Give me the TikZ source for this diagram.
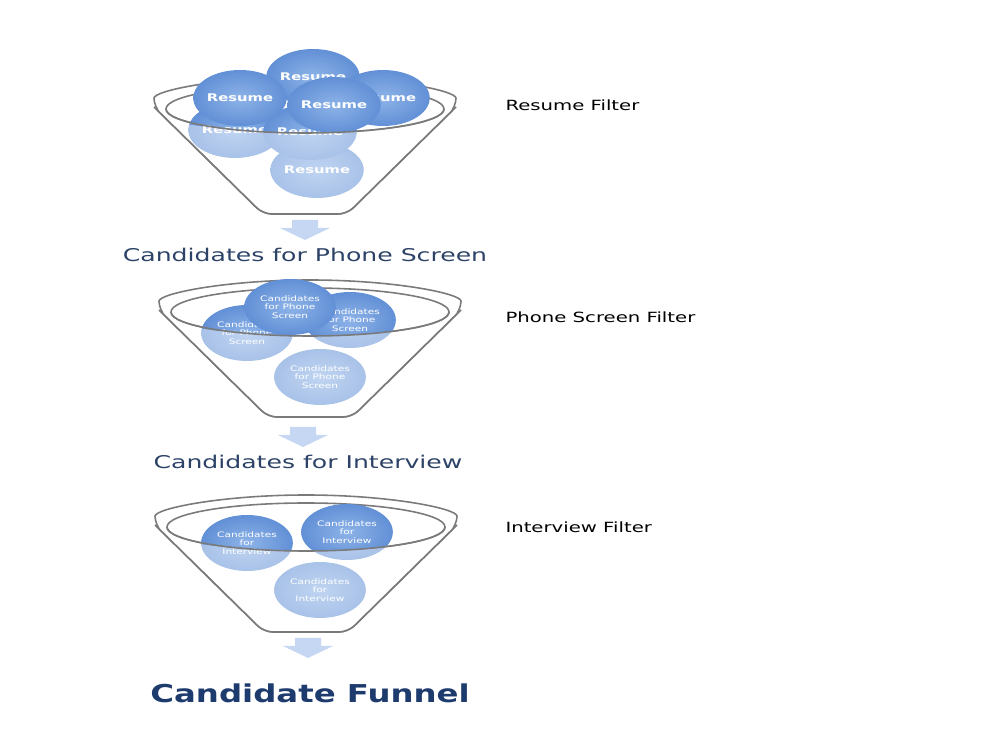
\documentclass[tikz,border=0pt]{standalone}
\usepackage{fontspec}
\setmainfont{DejaVu Sans}
\usepackage{xcolor}
\usetikzlibrary{shapes.geometric}
\usetikzlibrary{positioning}
\definecolor{bubin}{HTML}{8DB3E8}
\definecolor{bubout}{HTML}{6290D6}
\definecolor{funnelgrey}{HTML}{7A7A7A}
\definecolor{arrowblue}{HTML}{C6D7F3}
\definecolor{titleblue}{HTML}{2C4266}
\definecolor{mainblue}{HTML}{1E3B6E}
\tikzset{funline/.style={draw=funnelgrey, line width=0.9pt},
glass/.style={fill=white, fill opacity=0.45},
bub/.style={ellipse, xscale=1.4, minimum width=1.31cm, minimum height=1.12cm,
inner sep=0pt, inner color=bubin, outer color=bubout, text=white, align=center},
resume/.style={bub, font=\fontsize{6}{7}\selectfont\bfseries},
cand/.style={bub, font=\fontsize{4.3}{5}\selectfont},
title/.style={xscale=1.43, text=titleblue, font=\fontsize{10}{12}\selectfont},
filterlabel/.style={xscale=1.4, anchor=west, inner xsep=0pt, font=\fontsize{8}{10}\selectfont},
funnel back/.pic={
\draw[funline, rounded corners=5pt] (-151,0) arc[start angle=180, end angle=0, x radius=151, y radius=30]
-- (42,-107) -- (-42,-107) -- cycle;
\draw[funline] (0,-2) ellipse[x radius=139, y radius=24];},
funnel front/.pic={
\fill[glass, rounded corners=5pt] (-151,0) -- (-42,-107) -- (42,-107) -- (151,0) -- (139,-2)
arc[start angle=0, end angle=-180, x radius=139, y radius=24] -- cycle;
\draw[funline, rounded corners=5pt] (-151,0) -- (-42,-107) -- (42,-107) -- (151,0);
\draw[funline] (139,-2) arc[start angle=0, end angle=-180, x radius=139, y radius=24];},
down arrow/.pic={
\fill[arrowblue] (-13,0) -- (13,0) -- (13,-8) -- (25,-8) -- (0,-20) -- (-25,-8) -- (-13,-8) -- cycle;}}
\begin{document}
\begin{tikzpicture}[x=0.02cm, y=0.02cm]
\useasboundingbox (0,0) rectangle (1000,750);
\coordinate (fa) at (305,643);
\coordinate (fb) at (310,440);
\coordinate (fc) at (306,225);
% resume filter
\pic at (fa) {funnel back};
\node[resume] (r7) at (317,580) {Resume};
\node[resume] (r5) at (235,620) {Resume};
\node[resume] (r6) at (310,618) {Resume};
\node[resume] (r1) at (313,673) {Resume};
\node[resume] (r3) at (383,652) {Resume};
\node[resume] (r2) at (240,652) {Resume};
\node[resume] (r4) at (334,645) {Resume};
\pic at (fa) {funnel front};
\pic at (305,530) {down arrow};
\node[title] (ta) at (305,495) {Candidates for Phone Screen};
\node[filterlabel] (la) at (505,645) {Resume Filter};
% phone screen filter
\pic at (fb) {funnel back};
\node[cand] (p4) at (320,373) {Candidates\\for Phone\\Screen};
\node[cand] (p2) at (247,417) {Candidates\\for Phone\\Screen};
\node[cand] (p3) at (350,430) {Candidates\\for Phone\\Screen};
\node[cand] (p1) at (290,443) {Candidates\\for Phone\\Screen};
\pic at (fb) {funnel front};
\pic at (303,323) {down arrow};
\node[title] (tb) at (308,288) {Candidates for Interview};
\node[filterlabel] (lb) at (505,433) {Phone Screen Filter};
% interview filter
\pic at (fc) {funnel back};
\node[cand] (i3) at (320,160) {Candidates\\for\\Interview};
\node[cand] (i1) at (247,207) {Candidates\\for\\Interview};
\node[cand] (i2) at (347,218) {Candidates\\for\\Interview};
\pic at (fc) {funnel front};
\pic at (308,112) {down arrow};
\node[title, xscale=0.92, text=mainblue, font=\fontsize{14}{16}\selectfont\bfseries] (tc) at (310,57) {Candidate Funnel};
\node[filterlabel] (lc) at (505,223) {Interview Filter};
\end{tikzpicture}
\end{document}
